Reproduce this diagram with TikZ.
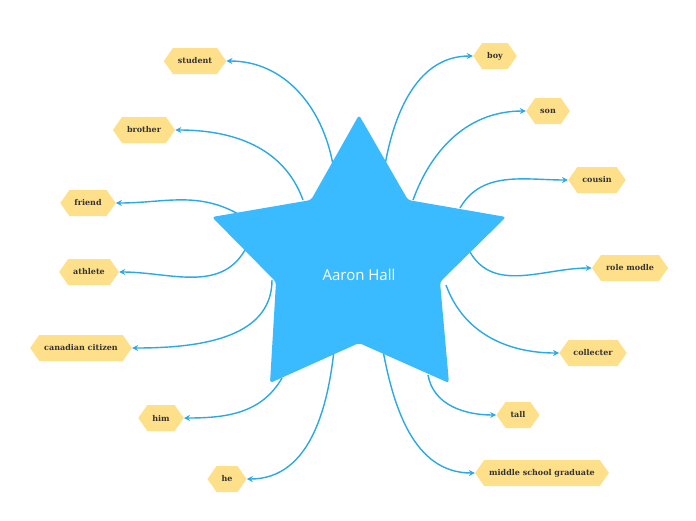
\documentclass[tikz,border=0pt]{standalone}
\usepackage{fontspec}
\setmainfont{DejaVu Serif}
\newfontfamily\starfont{Open Sans}
\usetikzlibrary{shapes.symbols,arrows.meta}
\definecolor{lab}{HTML}{FFE08A}
\definecolor{ln}{HTML}{2BA8E8}
\definecolor{st}{HTML}{3BBBFF}
\begin{document}
\begin{tikzpicture}[x=1pt,y=-1pt,
 lbl/.style={signal,signal to=east and west,signal pointer angle=110,fill=lab,draw=none,font=\bfseries\fontsize{8}{9}\selectfont,text=black!80,minimum height=26pt,inner xsep=5pt},
 con/.style={draw=ln,line width=1.4pt,-{Stealth[length=6pt,width=6pt]}}]
\useasboundingbox (0,0) rectangle (696,520);
\node[lbl] (n1) at (195,61) {student};
\node[lbl] (n2) at (144,130) {brother};
\node[lbl] (n3) at (88,203) {friend};
\node[lbl] (n4) at (89,272) {athlete};
\node[lbl] (n5) at (81,348) {canadian citizen};
\node[lbl] (n6) at (161,418) {him};
\node[lbl] (n7) at (227,479) {he};
\node[lbl] (m1) at (495,56) {boy};
\node[lbl] (m2) at (548,111) {son};
\node[lbl] (m3) at (597,180) {cousin};
\node[lbl] (m4) at (630,268) {role modle};
\node[lbl] (m5) at (593,353) {collecter};
\node[lbl] (m6) at (518,415) {tall};
\node[lbl] (m7) at (542,473) {middle school graduate};
\coordinate (a1) at (333,165); \coordinate (a2) at (303,200);
\coordinate (a3) at (240,215); \coordinate (a4) at (245,250);
\coordinate (a5) at (272,280); \coordinate (a6) at (282,378);
\coordinate (a7) at (335,340);
\coordinate (b1) at (385,165); \coordinate (b2) at (413,200);
\coordinate (b3) at (460,208); \coordinate (b4) at (470,252);
\coordinate (b5) at (446,285); \coordinate (b6) at (428,375);
\coordinate (b7) at (382,345);
\draw[con] (a1) to[out=-100+200,in=0,looseness=1] (n1.east);
\draw[con] (a2) to[out=110,in=0] (n2.east);
\draw[con] (a3) to[out=150,in=0] (n3.east);
\draw[con] (a4) to[out=-120,in=0] (n4.east);
\draw[con] (a5) to[out=-90,in=0] (n5.east);
\draw[con] (a6) to[out=-120,in=0] (n6.east);
\draw[con] (a7) to[out=-95,in=0] (n7.east);
\draw[con] (b1) to[out=80,in=180] (m1.west);
\draw[con] (b2) to[out=70,in=180] (m2.west);
\draw[con] (b3) to[out=60,in=180] (m3.west);
\draw[con] (b4) to[out=-60,in=180] (m4.west);
\draw[con] (b5) to[out=-70,in=180] (m5.west);
\draw[con] (b6) to[out=-80,in=180] (m6.west);
\draw[con] (b7) to[out=-80,in=180] (m7.west);
\fill[st,rounded corners=3pt] (359,115) -- (408,200) -- (506,217) -- (440,282) -- (449,383)
 -- (359,343) -- (270,383) -- (276,282) -- (212,217) -- (311,200) -- cycle;
\node[font=\starfont\fontsize{15}{18}\selectfont,text=white] (c) at (359,275) {Aaron Hall};
\end{tikzpicture}
\end{document}
